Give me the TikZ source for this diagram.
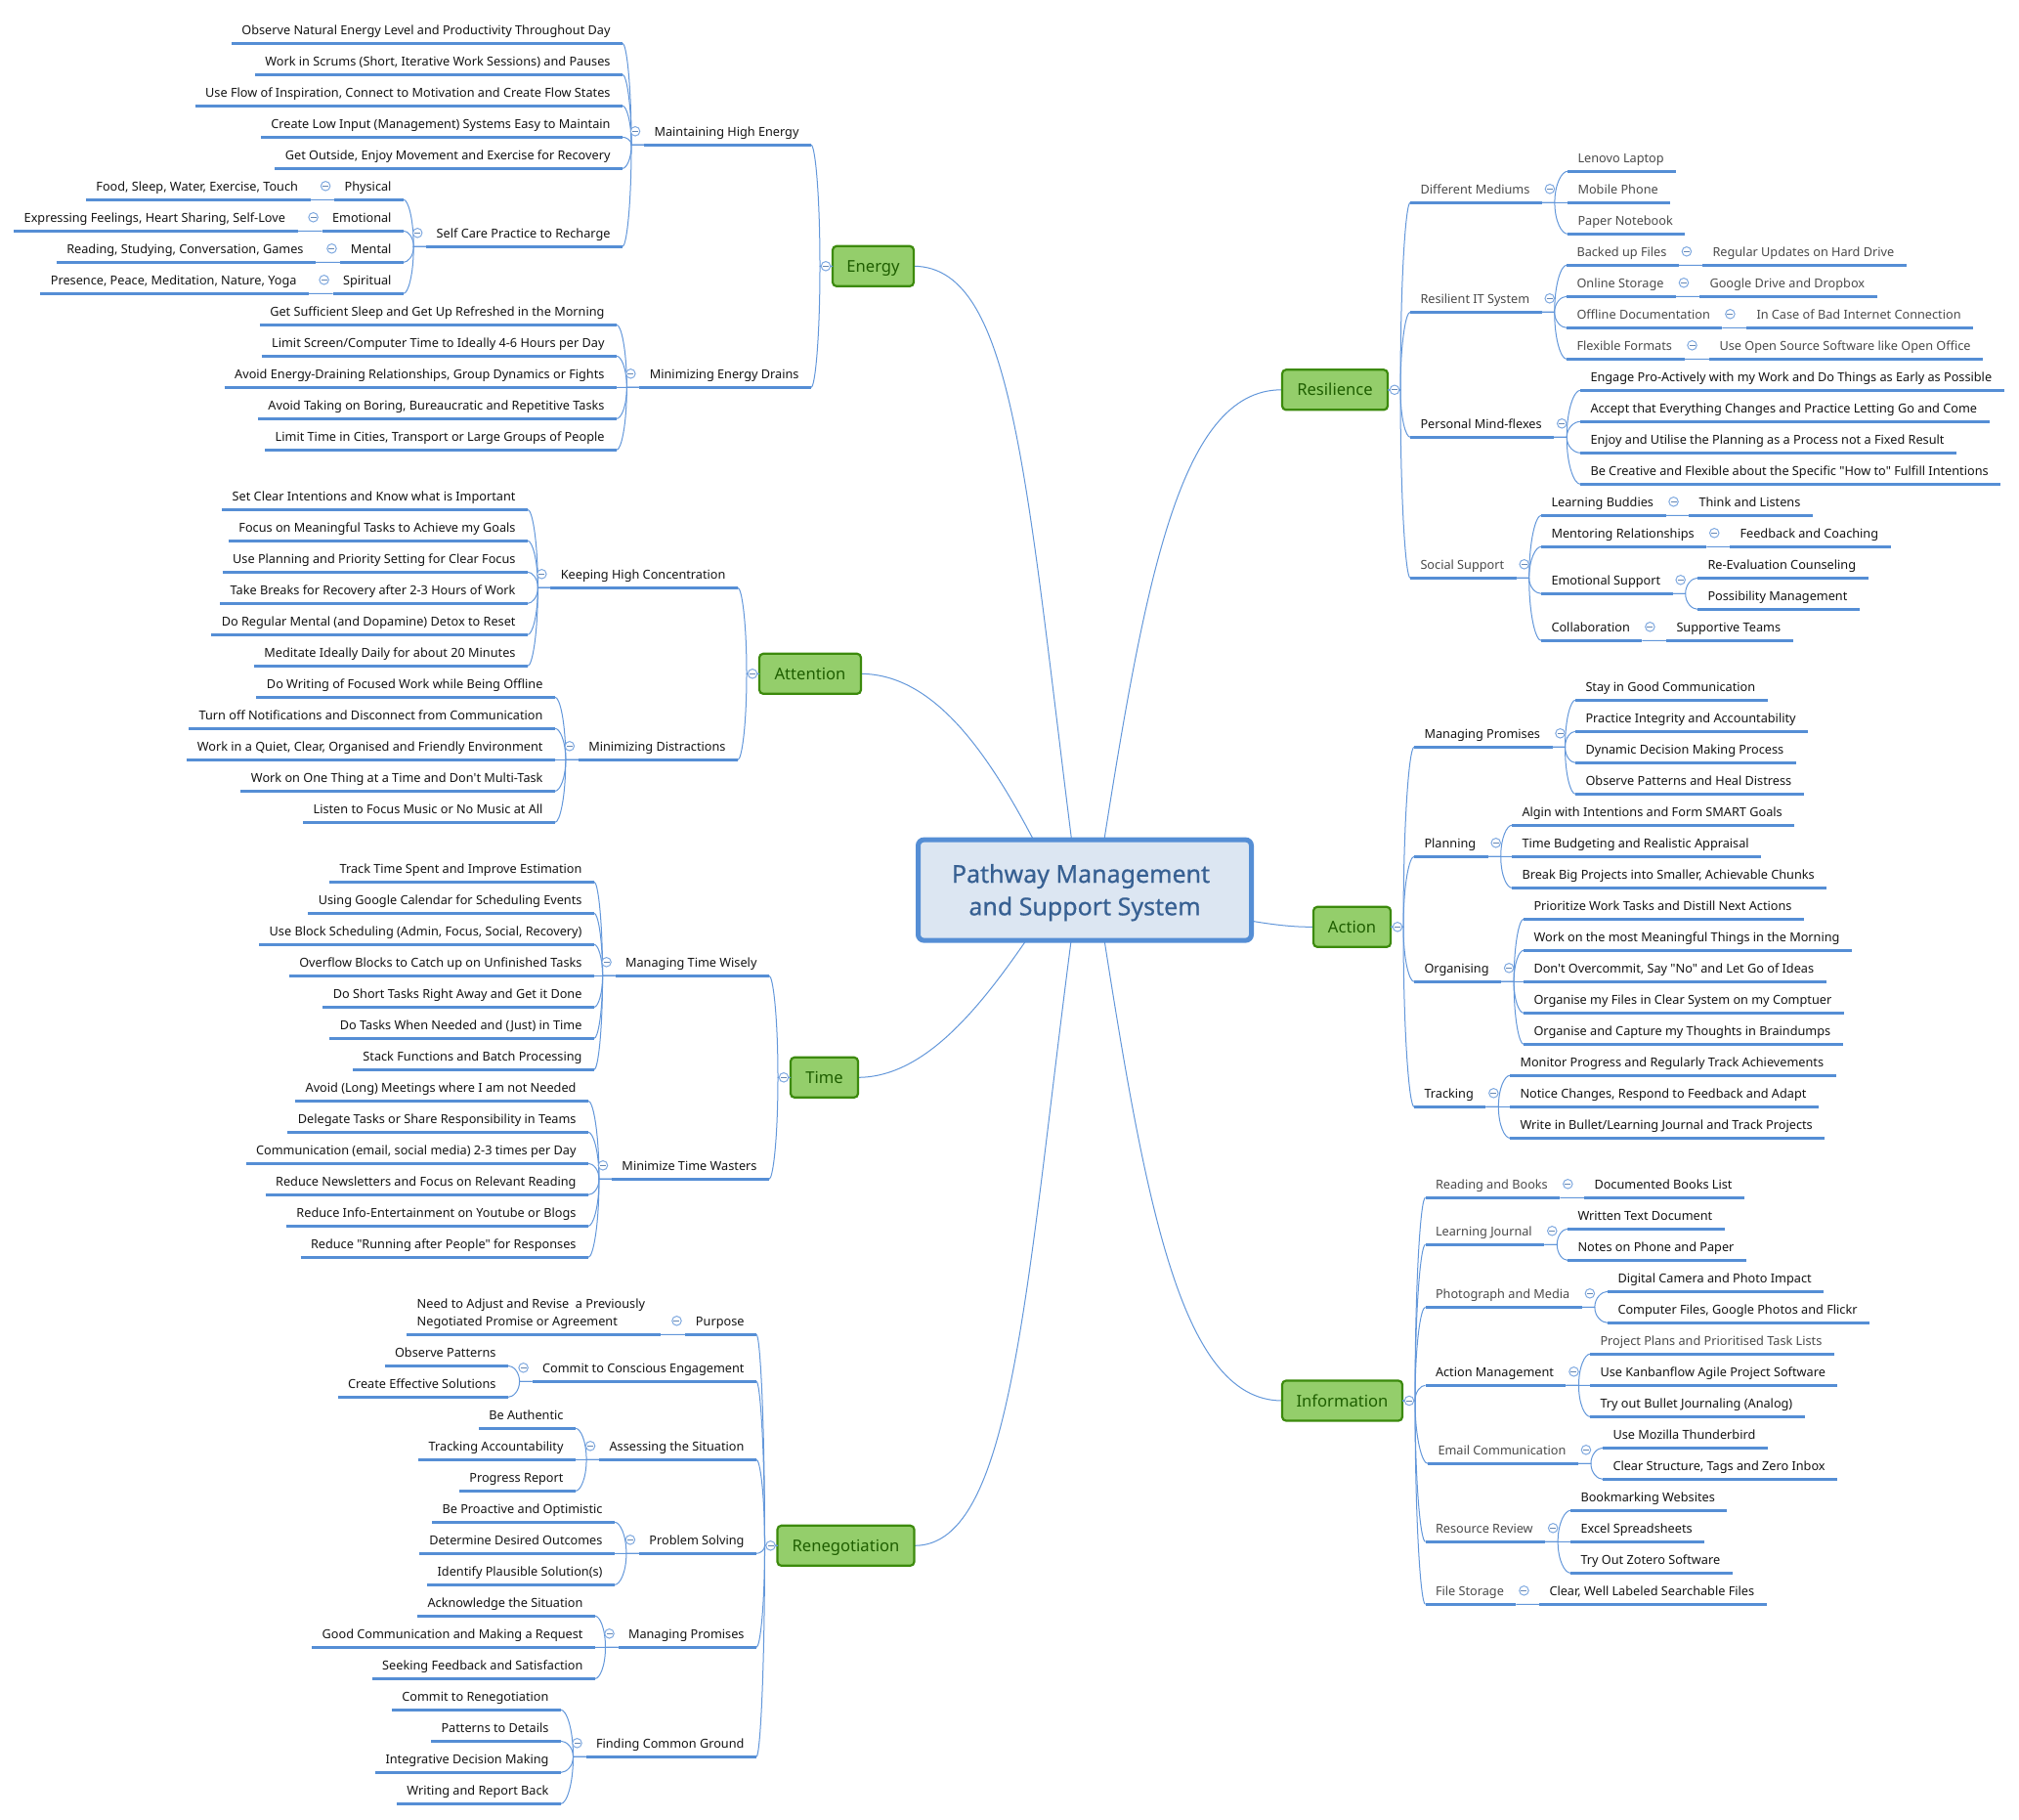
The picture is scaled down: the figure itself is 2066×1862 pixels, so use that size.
\documentclass[tikz,border=0pt]{standalone}
\usepackage{fontspec}
\setmainfont{Noto Sans}[Ligatures=TeXOff]
\newfontfamily\titlef[FakeBold=0.55]{Noto Sans}
\usetikzlibrary{calc}
\definecolor{barblue}{HTML}{558ED5}
\definecolor{linkblue}{HTML}{6397DA}
\definecolor{collblue}{HTML}{7FA9E0}
\definecolor{txt}{HTML}{141414}
\definecolor{gtxt}{HTML}{4A4A4A}
\definecolor{gfill}{HTML}{94CE6B}
\definecolor{gline}{HTML}{3C8A0C}
\definecolor{gtext}{HTML}{1E5E00}
\definecolor{mfill}{HTML}{DCE6F2}
\definecolor{mtext}{HTML}{376092}
\pgfdeclarelayer{bg}
\pgfsetlayers{bg,main}
\tikzset{
 topic/.style={inner sep=0pt,outer sep=0pt,text height=10pt,text depth=9pt,font=\fontsize{12.7}{18}\selectfont},
 topicR/.style={topic,anchor=south west},
 topicL/.style={topic,anchor=south east},
 bar/.style={line width=3pt,barblue},
 link/.style={line width=1pt,linkblue},
 collapse/.style={circle,draw=collblue,fill=white,line width=1pt,minimum size=9.5pt,inner sep=0pt,
   path picture={\draw[line width=0.8pt,collblue!80!black] ([xshift=-3pt]path picture bounding box.center)--([xshift=3pt]path picture bounding box.center);}},
 topbox/.style={draw=gline,fill=gfill,line width=2.2pt,rounded corners=4pt,text=gtext,inner sep=0pt,outer sep=0pt,minimum height=41pt,text height=16pt,text depth=4pt,font=\fontsize{16.6}{20}\selectfont},
 mainbox/.style={draw=barblue,fill=mfill,line width=5pt,rounded corners=6pt,text=mtext,inner sep=0pt,outer sep=0pt,align=center,minimum width=341pt,minimum height=103pt,font=\titlef\fontsize{25}{33.3}\selectfont},
}
\def\yo{0}
% right-hand topic: name, inner x, bar y, text
\newcommand\Rt[5][txt]{\node[topicR,text=#1] (#2) at (#3,{#4+\yo}) {\hspace*{10.5pt}#5\hspace*{12.5pt}};
 \draw[bar] (#2.south west)--(#2.south east);}
% left-hand topic
\newcommand\Lt[5][txt]{\node[topicL,text=#1] (#2) at (#3,{#4+\yo}) {\hspace*{10.5pt}#5\hspace*{12.5pt}};
 \draw[bar] (#2.south west)--(#2.south east);}
% connector: from point, to point, sign of direction
\newcommand\conn[3]{\coordinate (J) at ($(#1)+(#3*13,0)$);
 \draw[link] (#1)--(J) .. controls ($(J)!0.6!(J|-#2)$) and ($(#2)!0.45!(J|-#2)$) .. (#2);}
\newcommand\kidsR[2]{\foreach \k in {#2}{\conn{#1.south east}{\k.south west}{1}}
 \node[collapse] (#1-c) at ($(#1.south east)+(8,-14)$) {};}
\newcommand\kidsL[2]{\foreach \k in {#2}{\conn{#1.south west}{\k.south east}{-1}}
 \node[collapse] (#1-c) at ($(#1.south west)+(-9,-14)$) {};}
\newcommand\boxR[2]{\foreach \k in {#2}{\conn{#1.east}{\k.south west}{1}}
 \node[collapse] (#1-c) at ($(#1.east)+(7,0)$) {};}
\newcommand\boxL[2]{\foreach \k in {#2}{\conn{#1.west}{\k.south east}{-1}}
 \node[collapse] (#1-c) at ($(#1.west)+(-7,0)$) {};}
\begin{document}
\begin{tikzpicture}[x=1pt,y=-1pt]
\useasboundingbox (0,0) rectangle (2066,1862);
\node[mainbox] (main) at (1110,910.6) {\raisebox{-2.6pt}[\height][\depth]{Pathway Management\hspace{8pt}}\\\raisebox{-2.6pt}[\height][\depth]{and Support System}};
\node[topbox,minimum width=83pt] (energy) at (893.5,272.3) {Energy};
\node[topbox,minimum width=104pt] (attention) at (829,689.3) {Attention};
\node[topbox,minimum width=69pt] (time) at (843.5,1102.3) {Time};
\node[topbox,minimum width=140pt] (reneg) at (865.5,1581.3) {Renegotiation};
\node[topbox,minimum width=108pt] (resil) at (1366,398.8) {Resilience};
\node[topbox,minimum width=79pt] (action) at (1383.5,948.3) {Action};
\node[topbox,minimum width=123pt] (info) at (1373.5,1433) {Information};
\coordinate (tE) at (1103,910);
\coordinate (tA) at (1083,910);
\coordinate (tT) at (1085,910);
\coordinate (tN) at (1103,910);
\coordinate (tR) at (1122,910);
\coordinate (tI) at (1122,910);
\begin{pgfonlayer}{bg}
\draw[link] (energy.east) .. controls (1040,273) and (1050,500) .. (tE);
\draw[link] (attention.east) .. controls (965,690) and (1025,790) .. (tA);
\draw[link] (time.east) .. controls (960,1102) and (1025,1000) .. (tT);
\draw[link] (reneg.east) .. controls (1040,1582) and (1050,1300) .. (tN);
\draw[link] (resil.west) .. controls (1205,398) and (1170,600) .. (tR);
\draw[link] (info.west) .. controls (1205,1433) and (1170,1220) .. (tI);
\draw[link] (action.west) .. controls (1290,949) and (1230,930) .. (main.center);
\end{pgfonlayer}
% ---------- Energy
\def\yo{-0.7}
\Lt{mh}{830}{149}{Maintaining High Energy}
\Lt{me}{830}{397}{Minimizing Energy Drains}
\Lt{e1}{637}{45}{Observe Natural Energy Level and Productivity Throughout Day}
\Lt{e2}{637}{77}{Work in Scrums (Short, Iterative Work Sessions) and Pauses}
\Lt{e3}{637}{109}{Use Flow of Inspiration, Connect to Motivation and Create Flow States}
\Lt{e4}{637}{141}{Create Low Input (Management) Systems Easy to Maintain}
\Lt{e5}{637}{173}{Get Outside, Enjoy Movement and Exercise for Recovery}
\Lt{sc}{637}{253}{Self Care Practice to Recharge}
\Lt{s1}{413}{205}{Physical}
\Lt{s2}{413}{237}{Emotional}
\Lt{s3}{413}{269}{Mental}
\Lt{s4}{413}{301}{Spiritual}
\Lt{s1a}{317.5}{205}{Food, Sleep, Water, Exercise, Touch}
\Lt{s2a}{304.5}{237}{Expressing Feelings, Heart Sharing, Self-Love}
\Lt{s3a}{323}{269}{Reading, Studying, Conversation, Games}
\Lt{s4a}{316}{301}{Presence, Peace, Meditation, Nature, Yoga}
\Lt{d1}{631}{333}{Get Sufficient Sleep and Get Up Refreshed in the Morning}
\Lt{d2}{631}{365}{Limit Screen/Computer Time to Ideally 4-6 Hours per Day}
\Lt{d3}{631}{397}{Avoid Energy-Draining Relationships, Group Dynamics or Fights}
\Lt{d4}{631}{429}{Avoid Taking on Boring, Bureaucratic and Repetitive Tasks}
\Lt{d5}{631}{461}{Limit Time in Cities, Transport or Large Groups of People}
\boxL{energy}{mh,me}
\kidsL{mh}{e1,e2,e3,e4,e5,sc}
\kidsL{sc}{s1,s2,s3,s4}
\kidsL{s1}{s1a}\kidsL{s2}{s2a}\kidsL{s3}{s3a}\kidsL{s4}{s4a}
\kidsL{me}{d1,d2,d3,d4,d5}
% ---------- Attention
\Lt{kc}{755}{602}{Keeping High Concentration}
\Lt{md}{755}{778}{Minimizing Distractions}
\Lt{a1}{540}{522}{Set Clear Intentions and Know what is Important}
\Lt{a2}{540}{554}{Focus on Meaningful Tasks to Achieve my Goals}
\Lt{a3}{540}{586}{Use Planning and Priority Setting for Clear Focus}
\Lt{a4}{540}{618}{Take Breaks for Recovery after 2-3 Hours of Work}
\Lt{a5}{540}{650}{Do Regular Mental (and Dopamine) Detox to Reset}
\Lt{a6}{540}{682}{Meditate Ideally Daily for about 20 Minutes}
\Lt{a7}{568}{714}{Do Writing of Focused Work while Being Offline}
\Lt{a8}{568}{746}{Turn off Notifications and Disconnect from Communication}
\Lt{a9}{568}{778}{Work in a Quiet, Clear, Organised and Friendly Environment}
\Lt{a10}{568}{810}{Work on One Thing at a Time and Don't Multi-Task}
\Lt{a11}{568}{842}{Listen to Focus Music or No Music at All}
\boxL{attention}{kc,md}
\kidsL{kc}{a1,a2,a3,a4,a5,a6}
\kidsL{md}{a7,a8,a9,a10,a11}
% ---------- Time
\Lt{tw}{787}{999}{Managing Time Wisely}
\Lt{tm}{787}{1207}{Minimize Time Wasters}
\Lt{t1}{608}{903}{Track Time Spent and Improve Estimation}
\Lt{t2}{608}{935}{Using Google Calendar for Scheduling Events}
\Lt{t3}{608}{967}{Use Block Scheduling (Admin, Focus, Social, Recovery)}
\Lt{t4}{608}{999}{Overflow Blocks to Catch up on Unfinished Tasks}
\Lt{t5}{608}{1031}{Do Short Tasks Right Away and Get it Done}
\Lt{t6}{608}{1063}{Do Tasks When Needed and (Just) in Time}
\Lt{t7}{608}{1095}{Stack Functions and Batch Processing}
\Lt{t8}{602}{1127}{Avoid (Long) Meetings where I am not Needed}
\Lt{t9}{602}{1159}{Delegate Tasks or Share Responsibility in Teams}
\Lt{t10}{602}{1191}{Communication (email, social media) 2-3 times per Day}
\Lt{t11}{602}{1223}{Reduce Newsletters and Focus on Relevant Reading}
\Lt{t12}{602}{1255}{Reduce Info-Entertainment on Youtube or Blogs}
\Lt{t13}{602}{1287}{Reduce "Running after People" for Responses}
\boxL{time}{tw,tm}
\kidsL{tw}{t1,t2,t3,t4,t5,t6,t7}
\kidsL{tm}{t8,t9,t10,t11,t12,t13}
% ---------- Renegotiation
\def\yo{-0.2}
\Lt{pu}{774}{1365.5}{Purpose}
\Lt{cc}{774}{1413.5}{Commit to Conscious Engagement}
\Lt{as}{774}{1493.5}{Assessing the Situation}
\Lt{ps}{774}{1589.5}{Problem Solving}
\Lt{mp}{774}{1685.5}{Managing Promises}
\Lt{fc}{774}{1797.5}{Finding Common Ground}
\node[topicL,text=txt,align=left] (pu1) at (676,1365.3) {\hspace*{10.5pt}Need to Adjust and Revise\ \ a Previously\hspace*{16pt}\\\hspace*{10.5pt}Negotiated Promise or Agreement};
\draw[bar] (pu1.south west)--(pu1.south east);
\Lt{cc1}{520}{1397.5}{Observe Patterns}
\Lt{cc2}{520}{1429.5}{Create Effective Solutions}
\Lt{as1}{589}{1461.5}{Be Authentic}
\Lt{as2}{589}{1493.5}{Tracking Accountability}
\Lt{as3}{589}{1525.5}{Progress Report}
\Lt{ps1}{629}{1557.5}{Be Proactive and Optimistic}
\Lt{ps2}{629}{1589.5}{Determine Desired Outcomes}
\Lt{ps3}{629}{1621.5}{Identify Plausible Solution(s)}
\Lt{mp1}{609}{1653.5}{Acknowledge the Situation}
\Lt{mp2}{609}{1685.5}{Good Communication and Making a Request}
\Lt{mp3}{609}{1717.5}{Seeking Feedback and Satisfaction}
\Lt{fc1}{574}{1749.5}{Commit to Renegotiation}
\Lt{fc2}{574}{1781.5}{Patterns to Details}
\Lt{fc3}{574}{1813.5}{Integrative Decision Making}
\Lt{fc4}{574}{1845.5}{Writing and Report Back}
\boxL{reneg}{pu,cc,as,ps,mp,fc}
\kidsL{pu}{pu1}
\kidsL{cc}{cc1,cc2}
\kidsL{as}{as1,as2,as3}
\kidsL{ps}{ps1,ps2,ps3}
\kidsL{mp}{mp1,mp2,mp3}
\kidsL{fc}{fc1,fc2,fc3,fc4}
% ---------- Resilience
\def\yo{0.3}
\Rt[gtxt]{dm}{1443}{207}{Different Mediums}
\Rt[gtxt]{ri}{1443}{319}{Resilient IT System}
\Rt{pm}{1443}{447}{Personal Mind-flexes}
\Rt[gtxt]{ss}{1443}{591}{Social Support}
\Rt[gtxt]{dm1}{1604}{175}{Lenovo Laptop}
\Rt[gtxt]{dm2}{1604}{207}{Mobile Phone}
\Rt[gtxt]{dm3}{1604}{239}{Paper Notebook}
\Rt[gtxt]{ri1}{1603}{271}{Backed up Files}
\Rt[gtxt]{ri2}{1603}{303}{Online Storage}
\Rt[gtxt]{ri3}{1603}{335}{Offline Documentation}
\Rt[gtxt]{ri4}{1603}{367}{Flexible Formats}
\Rt[gtxt]{ri1a}{1742}{271}{Regular Updates on Hard Drive}
\Rt[gtxt]{ri2a}{1739}{303}{Google Drive and Dropbox}
\Rt[gtxt]{ri3a}{1787}{335}{In Case of Bad Internet Connection}
\Rt[gtxt]{ri4a}{1749}{367}{Use Open Source Software like Open Office}
\Rt{pm1}{1617}{399}{Engage Pro-Actively with my Work and Do Things as Early as Possible}
\Rt{pm2}{1617}{431}{Accept that Everything Changes and Practice Letting Go and Come}
\Rt{pm3}{1617}{463}{Enjoy and Utilise the Planning as a Process not a Fixed Result}
\Rt{pm4}{1617}{495}{Be Creative and Flexible about the Specific "How to" Fulfill Intentions}
\Rt{ss1}{1577}{527}{Learning Buddies}
\Rt{ss2}{1577}{559}{Mentoring Relationships}
\Rt{ss3}{1577}{607}{Emotional Support}
\Rt{ss4}{1577}{655}{Collaboration}
\Rt{ss1a}{1728}{527}{Think and Listens}
\Rt{ss2a}{1770}{559}{Feedback and Coaching}
\Rt{ss3a}{1737}{591}{Re-Evaluation Counseling}
\Rt{ss3b}{1737}{623}{Possibility Management}
\Rt{ss4a}{1705}{655}{Supportive Teams}
\boxR{resil}{dm,ri,pm,ss}
\kidsR{dm}{dm1,dm2,dm3}
\kidsR{ri}{ri1,ri2,ri3,ri4}
\kidsR{ri1}{ri1a}\kidsR{ri2}{ri2a}\kidsR{ri3}{ri3a}\kidsR{ri4}{ri4a}
\kidsR{pm}{pm1,pm2,pm3,pm4}
\kidsR{ss}{ss1,ss2,ss3,ss4}
\kidsR{ss1}{ss1a}\kidsR{ss2}{ss2a}\kidsR{ss3}{ss3a,ss3b}\kidsR{ss4}{ss4a}
% ---------- Action
\def\yo{-0.7}
\Rt{ap}{1447}{765}{Managing Promises}
\Rt{pl}{1447}{877}{Planning}
\Rt{og}{1447}{1005}{Organising}
\Rt{tr}{1447}{1133}{Tracking}
\Rt{ap1}{1612}{717}{Stay in Good Communication}
\Rt{ap2}{1612}{749}{Practice Integrity and Accountability}
\Rt{ap3}{1612}{781}{Dynamic Decision Making Process}
\Rt{ap4}{1612}{813}{Observe Patterns and Heal Distress}
\Rt{pl1}{1547}{845}{Algin with Intentions and Form SMART Goals}
\Rt{pl2}{1547}{877}{Time Budgeting and Realistic Appraisal}
\Rt{pl3}{1547}{909}{Break Big Projects into Smaller, Achievable Chunks}
\Rt{og1}{1559}{941}{Prioritize Work Tasks and Distill Next Actions}
\Rt{og2}{1559}{973}{Work on the most Meaningful Things in the Morning}
\Rt{og3}{1559}{1005}{Don't Overcommit, Say "No" and Let Go of Ideas}
\Rt{og4}{1559}{1037}{Organise my Files in Clear System on my Comptuer}
\Rt{og5}{1559}{1069}{Organise and Capture my Thoughts in Braindumps}
\Rt{tr1}{1545}{1101}{Monitor Progress and Regularly Track Achievements}
\Rt{tr2}{1545}{1133}{Notice Changes, Respond to Feedback and Adapt}
\Rt{tr3}{1545}{1165}{Write in Bullet/Learning Journal and Track Projects}
\boxR{action}{ap,pl,og,tr}
\kidsR{ap}{ap1,ap2,ap3,ap4}
\kidsR{pl}{pl1,pl2,pl3}
\kidsR{og}{og1,og2,og3,og4,og5}
\kidsR{tr}{tr1,tr2,tr3}
% ---------- Information
\def\yo{0.3}
\Rt[gtxt]{rb}{1458.5}{1225}{Reading and Books}
\Rt[gtxt]{lj}{1458.5}{1273}{Learning Journal}
\Rt[gtxt]{ph}{1458.5}{1337}{Photograph and Media}
\Rt{am}{1458.5}{1417}{Action Management}
\Rt[gtxt]{em}{1461}{1497}{Email Communication}
\Rt[gtxt]{rr}{1458.5}{1577}{Resource Review}
\Rt[gtxt]{fs}{1458.5}{1641}{File Storage}
\Rt{rb1}{1621}{1225}{Documented Books List}
\Rt{lj1}{1604}{1257}{Written Text Document}
\Rt{lj2}{1604}{1289}{Notes on Phone and Paper}
\Rt{ph1}{1645}{1321}{Digital Camera and Photo Impact}
\Rt{ph2}{1645}{1353}{Computer Files, Google Photos and Flickr}
\Rt[gtxt]{am1}{1627}{1385}{Project Plans and Prioritised Task Lists}
\Rt{am2}{1627}{1417}{Use Kanbanflow Agile Project Software}
\Rt{am3}{1627}{1449}{Try out Bullet Journaling (Analog)}
\Rt{em1}{1640}{1481}{Use Mozilla Thunderbird}
\Rt{em2}{1640}{1513}{Clear Structure, Tags and Zero Inbox}
\Rt{rr1}{1607}{1545}{Bookmarking Websites}
\Rt{rr2}{1607}{1577}{Excel Spreadsheets}
\Rt{rr3}{1607}{1609}{Try Out Zotero Software}
\Rt{fs1}{1575}{1641}{Clear, Well Labeled Searchable Files}
\boxR{info}{rb,lj,ph,am,em,rr,fs}
\kidsR{rb}{rb1}
\kidsR{lj}{lj1,lj2}
\kidsR{ph}{ph1,ph2}
\kidsR{am}{am1,am2,am3}
\kidsR{em}{em1,em2}
\kidsR{rr}{rr1,rr2,rr3}
\kidsR{fs}{fs1}
\end{tikzpicture}
\end{document}
